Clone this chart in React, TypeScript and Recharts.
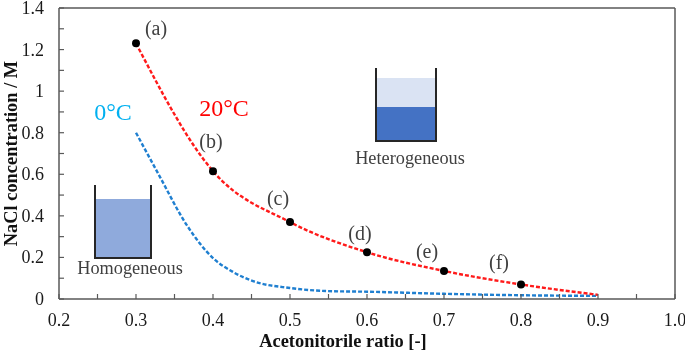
import { LineChart, Line, XAxis, YAxis, ReferenceLine, Label } from "recharts";

// ─── Data ──────────────────────────────────────────────────────────────────

const RED_X = [0.3, 0.4, 0.5, 0.6, 0.7, 0.8, 0.9];
const RED_Y = [1.23, 0.615, 0.37, 0.225, 0.135, 0.07, 0.02];
const BLUE_X = [0.3, 0.33, 0.366, 0.4, 0.426, 0.452, 0.5, 0.55, 0.6, 0.7, 0.8, 0.9];
const BLUE_Y = [0.8, 0.595, 0.355, 0.197, 0.13, 0.086, 0.053, 0.038, 0.035, 0.025, 0.018, 0.015];

const POINT_LABELS = ["(a)", "(b)", "(c)", "(d)", "(e)", "(f)"];
const LABEL_OFFSETS = [
  [20, -14],
  [-2, -29],
  [-12, -23],
  [-7, -18],
  [-17, -19],
  [-22, -21],
];

const X_TICKS = [0.2, 0.25, 0.3, 0.35, 0.4, 0.45, 0.5, 0.55, 0.6, 0.65, 0.7, 0.75, 0.8, 0.85, 0.9, 0.95, 1.0];
const X_LABELS = ["0.2", "0.3", "0.4", "0.5", "0.6", "0.7", "0.8", "0.9", "1.0"];
const Y_TICKS = [0, 0.1, 0.2, 0.3, 0.4, 0.5, 0.6, 0.7, 0.8, 0.9, 1, 1.1, 1.2, 1.3, 1.4];
const Y_LABELS = ["0", "0.2", "0.4", "0.6", "0.8", "1", "1.2", "1.4"];

const redData = RED_X.map((x, i) => ({ x, y: RED_Y[i] }));
const blueData = BLUE_X.map((x, i) => ({ x, y: BLUE_Y[i] }));

const SERIF = "'Liberation Serif', serif";
const AXIS = "#595959";

// ─── Ticks ─────────────────────────────────────────────────────────────────

function XTick({ x, y, payload }: any) {
  const text = X_LABELS.find((l) => Number(l) === payload.value);
  return (
    <g>
      <line x1={x} x2={x} y1={y} y2={y - 5} stroke={AXIS} strokeWidth={1.2} />
      {text && (
        <text x={x} y={y + 27} textAnchor="middle" fontSize={18} fill="#1a1a1a" fontFamily={SERIF}>
          {text}
        </text>
      )}
    </g>
  );
}

function YTick({ x, y, payload }: any) {
  const text = Y_LABELS.find((l) => Number(l) === payload.value);
  return (
    <g>
      <line x1={x} x2={x + 5} y1={y} y2={y} stroke={AXIS} strokeWidth={1.2} />
      {text && (
        <text x={x - 15} y={y + 6} textAnchor="end" fontSize={18} fill="#1a1a1a" fontFamily={SERIF}>
          {text}
        </text>
      )}
    </g>
  );
}

function LabelledDot({ cx, cy, index }: any) {
  if (index >= POINT_LABELS.length) return <g key={index} />;
  const [dx, dy] = LABEL_OFFSETS[index];
  return (
    <g key={index}>
      <circle cx={cx} cy={cy} r={4} fill="#000" />
      <text x={cx + dx} y={cy + dy + 6} textAnchor="middle" fontSize={20} fill="#404040" fontFamily={SERIF}>
        {POINT_LABELS[index]}
      </text>
    </g>
  );
}

// ─── Beaker sketches ───────────────────────────────────────────────────────

function Box({ left, top, width, height, color }: { left: number; top: number; width: number; height: number; color: string }) {
  return <div style={{ position: "absolute", left, top, width, height, background: color }} />;
}

function Note({ cx, cy, size, color, children }: { cx: number; cy: number; size: number; color: string; children: string }) {
  return (
    <div
      style={{
        position: "absolute",
        left: cx - 80,
        top: cy - 15,
        width: 160,
        height: 30,
        lineHeight: "30px",
        textAlign: "center",
        fontFamily: SERIF,
        fontSize: size,
        color,
      }}
    >
      {children}
    </div>
  );
}

export default function App() {
  return (
    <div style={{ position: "absolute", left: 0, top: 0, width: 685, height: 351, background: "#fff", filter: "blur(0.5px)" }}>
      <LineChart width={685} height={351} data={redData} margin={{ top: 8, right: 10, bottom: 0, left: 0 }}>
        <XAxis
          dataKey="x"
          type="number"
          domain={[0.2, 1]}
          ticks={X_TICKS}
          interval={0}
          height={52}
          tickLine={false}
          tickSize={0}
          tickMargin={0}
          stroke={AXIS}
          strokeWidth={1.5}
          tick={<XTick />}
        >
          <Label
            value="Acetonitorile ratio [-]"
            position="insideBottom"
            offset={4}
            dx={-24}
            style={{ fontFamily: SERIF, fontSize: 18.4, fontWeight: 700, fill: "#111" }}
          />
        </XAxis>
        <YAxis
          type="number"
          domain={[0, 1.4]}
          ticks={Y_TICKS}
          interval={0}
          width={59}
          tickLine={false}
          tickSize={0}
          tickMargin={0}
          stroke={AXIS}
          strokeWidth={1.5}
          tick={<YTick />}
        >
          <Label
            value="NaCl concentration / M"
            angle={-90}
            position="insideLeft"
            offset={10}
            style={{ fontFamily: SERIF, fontSize: 18.4, fontWeight: 700, fill: "#111", textAnchor: "middle" }}
          />
        </YAxis>
        <ReferenceLine y={1.4} stroke={AXIS} strokeWidth={1.5} />
        <ReferenceLine x={1} stroke={AXIS} strokeWidth={1.5} />
        <Line
          data={blueData}
          dataKey="y"
          type="monotone"
          stroke="#1f7fd0"
          strokeWidth={2.4}
          strokeDasharray="4 2"
          dot={false}
          isAnimationActive={false}
        />
        <Line
          data={redData}
          dataKey="y"
          type="monotone"
          stroke="#ff1a1a"
          strokeWidth={2.4}
          strokeDasharray="4 2"
          dot={<LabelledDot />}
          isAnimationActive={false}
        />
      </LineChart>

      <Note cx={113} cy={112} size={24} color="#00b0f0">0°C</Note>
      <Note cx={224} cy={108} size={24} color="#ff0000">20°C</Note>

      <Box left={95} top={199} width={56} height={59} color="#8faadc" />
      <Box left={94} top={185} width={2} height={74} color="#262626" />
      <Box left={150} top={185} width={2} height={74} color="#262626" />
      <Box left={94} top={257} width={58} height={2} color="#262626" />
      <Note cx={130} cy={268} size={18.3} color="#404040">Homogeneous</Note>

      <Box left={376} top={78} width={60} height={29} color="#dae3f3" />
      <Box left={376} top={107} width={60} height={34} color="#4472c4" />
      <Box left={375} top={68} width={2} height={74} color="#262626" />
      <Box left={435} top={68} width={2} height={74} color="#262626" />
      <Box left={375} top={140} width={62} height={2} color="#262626" />
      <Note cx={410} cy={158} size={18.3} color="#404040">Heterogeneous</Note>
    </div>
  );
}
